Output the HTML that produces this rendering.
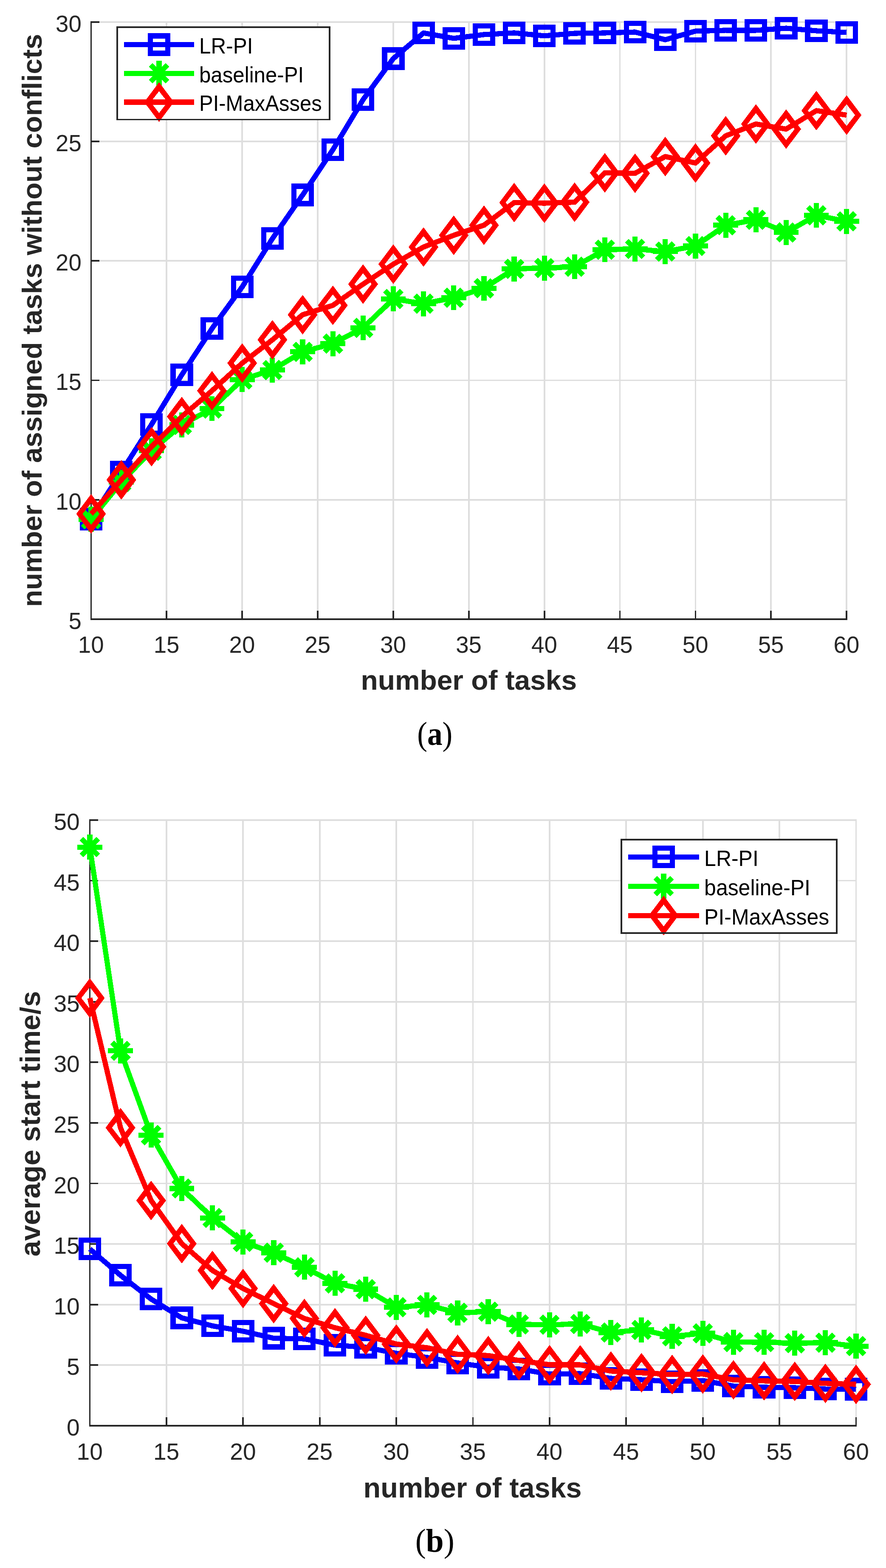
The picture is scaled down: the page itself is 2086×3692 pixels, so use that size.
<!DOCTYPE html>
<html lang="en"><head><meta charset="utf-8"><title>Figure</title>
<style>html,body{margin:0;padding:0;background:#fff}body{width:2086px;height:3692px;overflow:hidden}svg{display:block}text{font-family:"Liberation Sans",Arial,Helvetica,sans-serif}.cap text{font-family:"Liberation Serif","DejaVu Serif",serif}.c{shape-rendering:crispEdges}.s{fill:none;stroke-linejoin:miter;shape-rendering:crispEdges}.d{fill:currentColor;fill-rule:evenodd;stroke:none}</style>
</head><body>
<svg width="2086" height="3692" viewBox="0 0 2086 3692">
<rect width="2086" height="3692" fill="#fff"/>
<g id="chart-a">
<path class="c" fill="#dedede" d="M390 50H394V1438H390ZM568 50H572V1438H568ZM746 50H750V1438H746ZM924 50H928V1438H924ZM1102 50H1106V1438H1102ZM1280 50H1284V1438H1280ZM1458 50H1461V1438H1458ZM1636 50H1639V1438H1636ZM1813 50H1817V1438H1813ZM1991 50H1995V1438H1991ZM234 1175H1995V1179H234ZM234 894H1995V897H234ZM234 612H1995V616H234ZM234 331H1995V335H234ZM234 50H1995V54H234Z"/>
<path class="c" fill="#262626" d="M213 50H216V1460H213ZM213 1456H1995V1460H213ZM390 1438H394V1460H390ZM568 1438H572V1460H568ZM746 1438H750V1460H746ZM924 1438H928V1460H924ZM1102 1438H1106V1460H1102ZM1280 1438H1284V1460H1280ZM1458 1438H1461V1460H1458ZM1636 1438H1639V1460H1636ZM1813 1438H1817V1460H1813ZM1991 1438H1995V1460H1991ZM213 1175H234V1179H213ZM213 894H234V897H213ZM213 612H234V616H213ZM213 331H234V335H213ZM213 50H234V54H213Z"/>
<g font-size="54.6" fill="#262626" text-anchor="middle">
<text transform="translate(214.2 1536.9)">10</text>
<text transform="translate(392.07 1536.9)">15</text>
<text transform="translate(569.94 1536.9)">20</text>
<text transform="translate(747.81 1536.9)">25</text>
<text transform="translate(925.68 1536.9)">30</text>
<text transform="translate(1103.55 1536.9)">35</text>
<text transform="translate(1281.42 1536.9)">40</text>
<text transform="translate(1459.29 1536.9)">45</text>
<text transform="translate(1637.16 1536.9)">50</text>
<text transform="translate(1815.03 1536.9)">55</text>
<text transform="translate(1992.9 1536.9)">60</text>
</g>
<g font-size="54.6" fill="#262626" text-anchor="end">
<text transform="translate(191.8 1480.7)">5</text>
<text transform="translate(191.8 1199.54)">10</text>
<text transform="translate(191.8 918.38)">15</text>
<text transform="translate(191.8 637.22)">20</text>
<text transform="translate(191.8 356.06)">25</text>
<text transform="translate(191.8 74.9)">30</text>
</g>
<g font-size="65" font-weight="bold" fill="#262626" text-anchor="middle">
<text transform="translate(1103.8 1623.8) scale(1.0130 1)">number of tasks</text>
<text transform="translate(97.8 754.4) rotate(-90) scale(1.0100 1)">number of assigned tasks without conflicts</text>
</g>
<g class="s" stroke="#0000ff" color="#0000ff" stroke-width="12.2">
<polyline stroke-linejoin="round" points="214.5,1222.3 285.65,1111.5 356.8,999.5 427.94,882.6 499.09,773.7 570.24,675.5 641.39,561.8 712.54,459 783.68,352.6 854.83,234.6 925.98,137.9 997.13,77.6 1068.28,90.3 1139.42,81.4 1210.57,77.4 1281.72,84.4 1352.87,78.5 1424.02,77.5 1495.16,75.5 1566.31,93.5 1637.46,73.3 1708.61,71.4 1779.76,71.4 1850.9,66.5 1922.05,72.5 1993.2,76.4"/>
<rect x="194" y="1201.8" width="41" height="41"/>
<rect x="265.15" y="1091" width="41" height="41"/>
<rect x="336.3" y="979" width="41" height="41"/>
<rect x="407.44" y="862.1" width="41" height="41"/>
<rect x="478.59" y="753.2" width="41" height="41"/>
<rect x="549.74" y="655" width="41" height="41"/>
<rect x="620.89" y="541.3" width="41" height="41"/>
<rect x="692.04" y="438.5" width="41" height="41"/>
<rect x="763.18" y="332.1" width="41" height="41"/>
<rect x="834.33" y="214.1" width="41" height="41"/>
<rect x="905.48" y="117.4" width="41" height="41"/>
<rect x="976.63" y="57.1" width="41" height="41"/>
<rect x="1047.78" y="69.8" width="41" height="41"/>
<rect x="1118.92" y="60.9" width="41" height="41"/>
<rect x="1190.07" y="56.9" width="41" height="41"/>
<rect x="1261.22" y="63.9" width="41" height="41"/>
<rect x="1332.37" y="58" width="41" height="41"/>
<rect x="1403.52" y="57" width="41" height="41"/>
<rect x="1474.66" y="55" width="41" height="41"/>
<rect x="1545.81" y="73" width="41" height="41"/>
<rect x="1616.96" y="52.8" width="41" height="41"/>
<rect x="1688.11" y="50.9" width="41" height="41"/>
<rect x="1759.26" y="50.9" width="41" height="41"/>
<rect x="1830.4" y="46" width="41" height="41"/>
<rect x="1901.55" y="52" width="41" height="41"/>
<rect x="1972.7" y="55.9" width="41" height="41"/>
</g>
<g class="s" stroke="#00ff00" color="#00ff00" stroke-width="12.2">
<polyline stroke-linejoin="round" points="214.5,1222.7 285.65,1135 356.8,1061.2 427.94,1000.5 499.09,962 570.24,893.6 641.39,871.1 712.54,828.3 783.68,809.2 854.83,772 925.98,703.8 997.13,715.1 1068.28,701 1139.42,678.9 1210.57,633.1 1281.72,631.3 1352.87,628 1424.02,588 1495.16,586.2 1566.31,592.3 1637.46,579.2 1708.61,530.2 1779.76,517.6 1850.9,547.3 1922.05,507 1993.2,521.2"/>
<path d="M185.1 1222.7H243.9M214.5 1193.3V1252.1M194.84 1203.04L234.16 1242.36M194.84 1242.36L234.16 1203.04"/>
<path d="M256.25 1135H315.05M285.65 1105.6V1164.4M265.99 1115.34L305.31 1154.66M265.99 1154.66L305.31 1115.34"/>
<path d="M327.4 1061.2H386.2M356.8 1031.8V1090.6M337.14 1041.54L376.46 1080.86M337.14 1080.86L376.46 1041.54"/>
<path d="M398.54 1000.5H457.34M427.94 971.1V1029.9M408.28 980.84L447.6 1020.16M408.28 1020.16L447.6 980.84"/>
<path d="M469.69 962H528.49M499.09 932.6V991.4M479.43 942.34L518.75 981.66M479.43 981.66L518.75 942.34"/>
<path d="M540.84 893.6H599.64M570.24 864.2V923M550.58 873.94L589.9 913.26M550.58 913.26L589.9 873.94"/>
<path d="M611.99 871.1H670.79M641.39 841.7V900.5M621.73 851.44L661.05 890.76M621.73 890.76L661.05 851.44"/>
<path d="M683.14 828.3H741.94M712.54 798.9V857.7M692.88 808.64L732.2 847.96M692.88 847.96L732.2 808.64"/>
<path d="M754.28 809.2H813.08M783.68 779.8V838.6M764.02 789.54L803.34 828.86M764.02 828.86L803.34 789.54"/>
<path d="M825.43 772H884.23M854.83 742.6V801.4M835.17 752.34L874.49 791.66M835.17 791.66L874.49 752.34"/>
<path d="M896.58 703.8H955.38M925.98 674.4V733.2M906.32 684.14L945.64 723.46M906.32 723.46L945.64 684.14"/>
<path d="M967.73 715.1H1026.53M997.13 685.7V744.5M977.47 695.44L1016.79 734.76M977.47 734.76L1016.79 695.44"/>
<path d="M1038.88 701H1097.68M1068.28 671.6V730.4M1048.62 681.34L1087.94 720.66M1048.62 720.66L1087.94 681.34"/>
<path d="M1110.02 678.9H1168.82M1139.42 649.5V708.3M1119.76 659.24L1159.08 698.56M1119.76 698.56L1159.08 659.24"/>
<path d="M1181.17 633.1H1239.97M1210.57 603.7V662.5M1190.91 613.44L1230.23 652.76M1190.91 652.76L1230.23 613.44"/>
<path d="M1252.32 631.3H1311.12M1281.72 601.9V660.7M1262.06 611.64L1301.38 650.96M1262.06 650.96L1301.38 611.64"/>
<path d="M1323.47 628H1382.27M1352.87 598.6V657.4M1333.21 608.34L1372.53 647.66M1333.21 647.66L1372.53 608.34"/>
<path d="M1394.62 588H1453.42M1424.02 558.6V617.4M1404.36 568.34L1443.68 607.66M1404.36 607.66L1443.68 568.34"/>
<path d="M1465.76 586.2H1524.56M1495.16 556.8V615.6M1475.5 566.54L1514.82 605.86M1475.5 605.86L1514.82 566.54"/>
<path d="M1536.91 592.3H1595.71M1566.31 562.9V621.7M1546.65 572.64L1585.97 611.96M1546.65 611.96L1585.97 572.64"/>
<path d="M1608.06 579.2H1666.86M1637.46 549.8V608.6M1617.8 559.54L1657.12 598.86M1617.8 598.86L1657.12 559.54"/>
<path d="M1679.21 530.2H1738.01M1708.61 500.8V559.6M1688.95 510.54L1728.27 549.86M1688.95 549.86L1728.27 510.54"/>
<path d="M1750.36 517.6H1809.16M1779.76 488.2V547M1760.1 497.94L1799.42 537.26M1760.1 537.26L1799.42 497.94"/>
<path d="M1821.5 547.3H1880.3M1850.9 517.9V576.7M1831.24 527.64L1870.56 566.96M1831.24 566.96L1870.56 527.64"/>
<path d="M1892.65 507H1951.45M1922.05 477.6V536.4M1902.39 487.34L1941.71 526.66M1902.39 526.66L1941.71 487.34"/>
<path d="M1963.8 521.2H2022.6M1993.2 491.8V550.6M1973.54 501.54L2012.86 540.86M1973.54 540.86L2012.86 501.54"/>
</g>
<g class="s" stroke="#ff0000" color="#ff0000" stroke-width="12.2">
<polyline stroke-linejoin="round" points="214.5,1210 285.65,1129.9 356.8,1051.8 427.94,980.9 499.09,920.1 570.24,855 641.39,800.1 712.54,741.1 783.68,719 854.83,669 925.98,622 997.13,581.7 1068.28,554 1139.42,530.3 1210.57,476.9 1281.72,478.5 1352.87,476.1 1424.02,407 1495.16,408 1566.31,368.6 1637.46,383.8 1708.61,319.8 1779.76,292 1850.9,304 1922.05,260.5 1993.2,271"/>
<path class="d" d="M214.5 1163.4L249.6 1210L214.5 1256.6L179.4 1210ZM214.5 1184.4L234.45 1210L214.5 1235.6L194.55 1210Z"/>
<path class="d" d="M285.65 1083.3L320.75 1129.9L285.65 1176.5L250.55 1129.9ZM285.65 1104.3L305.6 1129.9L285.65 1155.5L265.7 1129.9Z"/>
<path class="d" d="M356.8 1005.2L391.9 1051.8L356.8 1098.4L321.7 1051.8ZM356.8 1026.2L376.75 1051.8L356.8 1077.4L336.85 1051.8Z"/>
<path class="d" d="M427.94 934.3L463.04 980.9L427.94 1027.5L392.84 980.9ZM427.94 955.3L447.89 980.9L427.94 1006.5L407.99 980.9Z"/>
<path class="d" d="M499.09 873.5L534.19 920.1L499.09 966.7L463.99 920.1ZM499.09 894.5L519.04 920.1L499.09 945.7L479.14 920.1Z"/>
<path class="d" d="M570.24 808.4L605.34 855L570.24 901.6L535.14 855ZM570.24 829.4L590.19 855L570.24 880.6L550.29 855Z"/>
<path class="d" d="M641.39 753.5L676.49 800.1L641.39 846.7L606.29 800.1ZM641.39 774.5L661.34 800.1L641.39 825.7L621.44 800.1Z"/>
<path class="d" d="M712.54 694.5L747.64 741.1L712.54 787.7L677.44 741.1ZM712.54 715.5L732.49 741.1L712.54 766.7L692.59 741.1Z"/>
<path class="d" d="M783.68 672.4L818.78 719L783.68 765.6L748.58 719ZM783.68 693.4L803.63 719L783.68 744.6L763.73 719Z"/>
<path class="d" d="M854.83 622.4L889.93 669L854.83 715.6L819.73 669ZM854.83 643.4L874.78 669L854.83 694.6L834.88 669Z"/>
<path class="d" d="M925.98 575.4L961.08 622L925.98 668.6L890.88 622ZM925.98 596.4L945.93 622L925.98 647.6L906.03 622Z"/>
<path class="d" d="M997.13 535.1L1032.23 581.7L997.13 628.3L962.03 581.7ZM997.13 556.1L1017.08 581.7L997.13 607.3L977.18 581.7Z"/>
<path class="d" d="M1068.28 507.4L1103.38 554L1068.28 600.6L1033.18 554ZM1068.28 528.4L1088.23 554L1068.28 579.6L1048.33 554Z"/>
<path class="d" d="M1139.42 483.7L1174.52 530.3L1139.42 576.9L1104.32 530.3ZM1139.42 504.7L1159.37 530.3L1139.42 555.9L1119.47 530.3Z"/>
<path class="d" d="M1210.57 430.3L1245.67 476.9L1210.57 523.5L1175.47 476.9ZM1210.57 451.3L1230.52 476.9L1210.57 502.5L1190.62 476.9Z"/>
<path class="d" d="M1281.72 431.9L1316.82 478.5L1281.72 525.1L1246.62 478.5ZM1281.72 452.9L1301.67 478.5L1281.72 504.1L1261.77 478.5Z"/>
<path class="d" d="M1352.87 429.5L1387.97 476.1L1352.87 522.7L1317.77 476.1ZM1352.87 450.5L1372.82 476.1L1352.87 501.7L1332.92 476.1Z"/>
<path class="d" d="M1424.02 360.4L1459.12 407L1424.02 453.6L1388.92 407ZM1424.02 381.4L1443.97 407L1424.02 432.6L1404.07 407Z"/>
<path class="d" d="M1495.16 361.4L1530.26 408L1495.16 454.6L1460.06 408ZM1495.16 382.4L1515.11 408L1495.16 433.6L1475.21 408Z"/>
<path class="d" d="M1566.31 322L1601.41 368.6L1566.31 415.2L1531.21 368.6ZM1566.31 343L1586.26 368.6L1566.31 394.2L1546.36 368.6Z"/>
<path class="d" d="M1637.46 337.2L1672.56 383.8L1637.46 430.4L1602.36 383.8ZM1637.46 358.2L1657.41 383.8L1637.46 409.4L1617.51 383.8Z"/>
<path class="d" d="M1708.61 273.2L1743.71 319.8L1708.61 366.4L1673.51 319.8ZM1708.61 294.2L1728.56 319.8L1708.61 345.4L1688.66 319.8Z"/>
<path class="d" d="M1779.76 245.4L1814.86 292L1779.76 338.6L1744.66 292ZM1779.76 266.4L1799.71 292L1779.76 317.6L1759.81 292Z"/>
<path class="d" d="M1850.9 257.4L1886 304L1850.9 350.6L1815.8 304ZM1850.9 278.4L1870.85 304L1850.9 329.6L1830.95 304Z"/>
<path class="d" d="M1922.05 213.9L1957.15 260.5L1922.05 307.1L1886.95 260.5ZM1922.05 234.9L1942 260.5L1922.05 286.1L1902.1 260.5Z"/>
<path class="d" d="M1993.2 224.4L2028.3 271L1993.2 317.6L1958.1 271ZM1993.2 245.4L2013.15 271L1993.2 296.6L1973.25 271Z"/>
</g>
<rect x="274" y="62" width="504" height="221" fill="#fff"/>
<g class="s" stroke="#0000ff" color="#0000ff" stroke-width="12.2">
<path d="M292 105H457"/>
<rect x="354" y="84.5" width="41" height="41"/>
</g>
<g class="s" stroke="#00ff00" color="#00ff00" stroke-width="12.2">
<path d="M292 172.7H457"/>
<path d="M345.1 172.7H403.9M374.5 143.3V202.1M354.84 153.04L394.16 192.36M354.84 192.36L394.16 153.04"/>
</g>
<g class="s" stroke="#ff0000" color="#ff0000" stroke-width="12.2">
<path d="M292 240.4H457"/>
<path class="d" d="M374.5 193.8L409.6 240.4L374.5 287L339.4 240.4ZM374.5 214.8L394.45 240.4L374.5 266L354.55 240.4Z"/>
</g>
<g font-size="52.2" fill="#000">
<text transform="translate(469 125.9) scale(0.9480 1)">LR-PI</text>
<text transform="translate(469 193.6) scale(0.9430 1)">baseline-PI</text>
<text transform="translate(469 261.3) scale(0.9390 1)">PI-MaxAsses</text>
</g>
<path class="c" fill="#262626" fill-rule="evenodd" d="M274 62H778V283H274ZM278 66H774V280H278Z"/>
</g>
<g id="chart-b">
<path class="c" fill="#dedede" d="M390 1929H394V3337H390ZM570 1929H574V3337H570ZM751 1929H755V3337H751ZM931 1929H935V3337H931ZM1112 1929H1115V3337H1112ZM1292 1929H1296V3337H1292ZM1472 1929H1476V3337H1472ZM1653 1929H1657V3337H1653ZM1833 1929H1837V3337H1833ZM2014 1929H2017V3337H2014ZM231 3212H2017V3216H231ZM231 3070H2017V3074H231ZM231 2927H2017V2931H231ZM231 2785H2017V2788H231ZM231 2642H2017V2646H231ZM231 2499H2017V2503H231ZM231 2357H2017V2361H231ZM231 2214H2017V2218H231ZM231 2072H2017V2075H231ZM231 1929H2017V1933H231Z"/>
<path class="c" fill="#262626" d="M210 1929H213V3359H210ZM210 3355H2017V3359H210ZM390 3337H394V3359H390ZM570 3337H574V3359H570ZM751 3337H755V3359H751ZM931 3337H935V3359H931ZM1112 3337H1115V3359H1112ZM1292 3337H1296V3359H1292ZM1472 3337H1476V3359H1472ZM1653 3337H1657V3359H1653ZM1833 3337H1837V3359H1833ZM2014 3337H2017V3359H2014ZM210 3212H231V3216H210ZM210 3070H231V3074H210ZM210 2927H231V2931H210ZM210 2785H231V2788H210ZM210 2642H231V2646H210ZM210 2499H231V2503H210ZM210 2357H231V2361H210ZM210 2214H231V2218H210ZM210 2072H231V2075H210ZM210 1929H231V1933H210Z"/>
<g font-size="56" fill="#262626" text-anchor="middle">
<text transform="translate(211.2 3437) scale(0.9850 1)">10</text>
<text transform="translate(391.6 3437) scale(0.9850 1)">15</text>
<text transform="translate(572 3437) scale(0.9850 1)">20</text>
<text transform="translate(752.4 3437) scale(0.9850 1)">25</text>
<text transform="translate(932.8 3437) scale(0.9850 1)">30</text>
<text transform="translate(1113.2 3437) scale(0.9850 1)">35</text>
<text transform="translate(1293.6 3437) scale(0.9850 1)">40</text>
<text transform="translate(1474 3437) scale(0.9850 1)">45</text>
<text transform="translate(1654.4 3437) scale(0.9850 1)">50</text>
<text transform="translate(1834.8 3437) scale(0.9850 1)">55</text>
<text transform="translate(2015.2 3437) scale(0.9850 1)">60</text>
</g>
<g font-size="56" fill="#262626" text-anchor="end">
<text transform="translate(187.8 3379.9) scale(0.9850 1)">0</text>
<text transform="translate(187.8 3237.32) scale(0.9850 1)">5</text>
<text transform="translate(187.8 3094.74) scale(0.9850 1)">10</text>
<text transform="translate(187.8 2952.16) scale(0.9850 1)">15</text>
<text transform="translate(187.8 2809.58) scale(0.9850 1)">20</text>
<text transform="translate(187.8 2667) scale(0.9850 1)">25</text>
<text transform="translate(187.8 2524.42) scale(0.9850 1)">30</text>
<text transform="translate(187.8 2381.84) scale(0.9850 1)">35</text>
<text transform="translate(187.8 2239.26) scale(0.9850 1)">40</text>
<text transform="translate(187.8 2096.68) scale(0.9850 1)">45</text>
<text transform="translate(187.8 1954.1) scale(0.9850 1)">50</text>
</g>
<g font-size="65.9" font-weight="bold" fill="#262626" text-anchor="middle">
<text transform="translate(1112.6 3526.4) scale(1.0100 1)">number of tasks</text>
<text transform="translate(93.9 2646) rotate(-90) scale(1.0100 1)">average start time/s</text>
</g>
<g class="s" stroke="#0000ff" color="#0000ff" stroke-width="12.2">
<polyline stroke-linejoin="round" points="211.5,2940.9 283.66,3002.8 355.82,3058.8 427.98,3103 500.14,3121.9 572.3,3134.5 644.46,3151 716.62,3152.5 788.78,3167.3 860.94,3172.5 933.1,3186.5 1005.26,3196.2 1077.42,3209.2 1149.58,3219.3 1221.74,3223.3 1293.9,3235.6 1366.06,3234.5 1438.22,3245.5 1510.38,3248.6 1582.54,3253.3 1654.7,3250.6 1726.86,3263.6 1799.02,3266.5 1871.18,3267.5 1943.34,3270.6 2015.5,3271"/>
<rect x="191" y="2920.4" width="41" height="41"/>
<rect x="263.16" y="2982.3" width="41" height="41"/>
<rect x="335.32" y="3038.3" width="41" height="41"/>
<rect x="407.48" y="3082.5" width="41" height="41"/>
<rect x="479.64" y="3101.4" width="41" height="41"/>
<rect x="551.8" y="3114" width="41" height="41"/>
<rect x="623.96" y="3130.5" width="41" height="41"/>
<rect x="696.12" y="3132" width="41" height="41"/>
<rect x="768.28" y="3146.8" width="41" height="41"/>
<rect x="840.44" y="3152" width="41" height="41"/>
<rect x="912.6" y="3166" width="41" height="41"/>
<rect x="984.76" y="3175.7" width="41" height="41"/>
<rect x="1056.92" y="3188.7" width="41" height="41"/>
<rect x="1129.08" y="3198.8" width="41" height="41"/>
<rect x="1201.24" y="3202.8" width="41" height="41"/>
<rect x="1273.4" y="3215.1" width="41" height="41"/>
<rect x="1345.56" y="3214" width="41" height="41"/>
<rect x="1417.72" y="3225" width="41" height="41"/>
<rect x="1489.88" y="3228.1" width="41" height="41"/>
<rect x="1562.04" y="3232.8" width="41" height="41"/>
<rect x="1634.2" y="3230.1" width="41" height="41"/>
<rect x="1706.36" y="3243.1" width="41" height="41"/>
<rect x="1778.52" y="3246" width="41" height="41"/>
<rect x="1850.68" y="3247" width="41" height="41"/>
<rect x="1922.84" y="3250.1" width="41" height="41"/>
<rect x="1995" y="3250.5" width="41" height="41"/>
</g>
<g class="s" stroke="#00ff00" color="#00ff00" stroke-width="12.2">
<polyline stroke-linejoin="round" points="211.5,1994.7 283.66,2474.2 355.82,2672.7 427.98,2798.4 500.14,2867.6 572.3,2924.3 644.46,2949.6 716.62,2983.8 788.78,3021.7 860.94,3035.5 933.1,3078.3 1005.26,3072.5 1077.42,3091.2 1149.58,3088.4 1221.74,3118.5 1293.9,3119.3 1366.06,3117.4 1438.22,3137.4 1510.38,3131.2 1582.54,3146.5 1654.7,3139.5 1726.86,3160.3 1799.02,3160.4 1871.18,3162.6 1943.34,3161.5 2015.5,3169.6"/>
<path d="M182.1 1994.7H240.9M211.5 1965.3V2024.1M191.84 1975.04L231.16 2014.36M191.84 2014.36L231.16 1975.04"/>
<path d="M254.26 2474.2H313.06M283.66 2444.8V2503.6M264 2454.54L303.32 2493.86M264 2493.86L303.32 2454.54"/>
<path d="M326.42 2672.7H385.22M355.82 2643.3V2702.1M336.16 2653.04L375.48 2692.36M336.16 2692.36L375.48 2653.04"/>
<path d="M398.58 2798.4H457.38M427.98 2769V2827.8M408.32 2778.74L447.64 2818.06M408.32 2818.06L447.64 2778.74"/>
<path d="M470.74 2867.6H529.54M500.14 2838.2V2897M480.48 2847.94L519.8 2887.26M480.48 2887.26L519.8 2847.94"/>
<path d="M542.9 2924.3H601.7M572.3 2894.9V2953.7M552.64 2904.64L591.96 2943.96M552.64 2943.96L591.96 2904.64"/>
<path d="M615.06 2949.6H673.86M644.46 2920.2V2979M624.8 2929.94L664.12 2969.26M624.8 2969.26L664.12 2929.94"/>
<path d="M687.22 2983.8H746.02M716.62 2954.4V3013.2M696.96 2964.14L736.28 3003.46M696.96 3003.46L736.28 2964.14"/>
<path d="M759.38 3021.7H818.18M788.78 2992.3V3051.1M769.12 3002.04L808.44 3041.36M769.12 3041.36L808.44 3002.04"/>
<path d="M831.54 3035.5H890.34M860.94 3006.1V3064.9M841.28 3015.84L880.6 3055.16M841.28 3055.16L880.6 3015.84"/>
<path d="M903.7 3078.3H962.5M933.1 3048.9V3107.7M913.44 3058.64L952.76 3097.96M913.44 3097.96L952.76 3058.64"/>
<path d="M975.86 3072.5H1034.66M1005.26 3043.1V3101.9M985.6 3052.84L1024.92 3092.16M985.6 3092.16L1024.92 3052.84"/>
<path d="M1048.02 3091.2H1106.82M1077.42 3061.8V3120.6M1057.76 3071.54L1097.08 3110.86M1057.76 3110.86L1097.08 3071.54"/>
<path d="M1120.18 3088.4H1178.98M1149.58 3059V3117.8M1129.92 3068.74L1169.24 3108.06M1129.92 3108.06L1169.24 3068.74"/>
<path d="M1192.34 3118.5H1251.14M1221.74 3089.1V3147.9M1202.08 3098.84L1241.4 3138.16M1202.08 3138.16L1241.4 3098.84"/>
<path d="M1264.5 3119.3H1323.3M1293.9 3089.9V3148.7M1274.24 3099.64L1313.56 3138.96M1274.24 3138.96L1313.56 3099.64"/>
<path d="M1336.66 3117.4H1395.46M1366.06 3088V3146.8M1346.4 3097.74L1385.72 3137.06M1346.4 3137.06L1385.72 3097.74"/>
<path d="M1408.82 3137.4H1467.62M1438.22 3108V3166.8M1418.56 3117.74L1457.88 3157.06M1418.56 3157.06L1457.88 3117.74"/>
<path d="M1480.98 3131.2H1539.78M1510.38 3101.8V3160.6M1490.72 3111.54L1530.04 3150.86M1490.72 3150.86L1530.04 3111.54"/>
<path d="M1553.14 3146.5H1611.94M1582.54 3117.1V3175.9M1562.88 3126.84L1602.2 3166.16M1562.88 3166.16L1602.2 3126.84"/>
<path d="M1625.3 3139.5H1684.1M1654.7 3110.1V3168.9M1635.04 3119.84L1674.36 3159.16M1635.04 3159.16L1674.36 3119.84"/>
<path d="M1697.46 3160.3H1756.26M1726.86 3130.9V3189.7M1707.2 3140.64L1746.52 3179.96M1707.2 3179.96L1746.52 3140.64"/>
<path d="M1769.62 3160.4H1828.42M1799.02 3131V3189.8M1779.36 3140.74L1818.68 3180.06M1779.36 3180.06L1818.68 3140.74"/>
<path d="M1841.78 3162.6H1900.58M1871.18 3133.2V3192M1851.52 3142.94L1890.84 3182.26M1851.52 3182.26L1890.84 3142.94"/>
<path d="M1913.94 3161.5H1972.74M1943.34 3132.1V3190.9M1923.68 3141.84L1963 3181.16M1923.68 3181.16L1963 3141.84"/>
<path d="M1986.1 3169.6H2044.9M2015.5 3140.2V3199M1995.84 3149.94L2035.16 3189.26M1995.84 3189.26L2035.16 3149.94"/>
</g>
<g class="s" stroke="#ff0000" color="#ff0000" stroke-width="12.2">
<polyline stroke-linejoin="round" points="211.5,2350 283.66,2655.3 355.82,2826.7 427.98,2928.3 500.14,2991.4 572.3,3034 644.46,3069.5 716.62,3104.4 788.78,3126.3 860.94,3144 933.1,3164.7 1005.26,3173.4 1077.42,3188.9 1149.58,3191.8 1221.74,3203.3 1293.9,3213.4 1366.06,3213.6 1438.22,3228.3 1510.38,3232.3 1582.54,3236.4 1654.7,3235.3 1726.86,3249 1799.02,3251.4 1871.18,3252.6 1943.34,3257.3 2015.5,3259.6"/>
<path class="d" d="M211.5 2303.4L246.6 2350L211.5 2396.6L176.4 2350ZM211.5 2324.4L231.45 2350L211.5 2375.6L191.55 2350Z"/>
<path class="d" d="M283.66 2608.7L318.76 2655.3L283.66 2701.9L248.56 2655.3ZM283.66 2629.7L303.61 2655.3L283.66 2680.9L263.71 2655.3Z"/>
<path class="d" d="M355.82 2780.1L390.92 2826.7L355.82 2873.3L320.72 2826.7ZM355.82 2801.1L375.77 2826.7L355.82 2852.3L335.87 2826.7Z"/>
<path class="d" d="M427.98 2881.7L463.08 2928.3L427.98 2974.9L392.88 2928.3ZM427.98 2902.7L447.93 2928.3L427.98 2953.9L408.03 2928.3Z"/>
<path class="d" d="M500.14 2944.8L535.24 2991.4L500.14 3038L465.04 2991.4ZM500.14 2965.8L520.09 2991.4L500.14 3017L480.19 2991.4Z"/>
<path class="d" d="M572.3 2987.4L607.4 3034L572.3 3080.6L537.2 3034ZM572.3 3008.4L592.25 3034L572.3 3059.6L552.35 3034Z"/>
<path class="d" d="M644.46 3022.9L679.56 3069.5L644.46 3116.1L609.36 3069.5ZM644.46 3043.9L664.41 3069.5L644.46 3095.1L624.51 3069.5Z"/>
<path class="d" d="M716.62 3057.8L751.72 3104.4L716.62 3151L681.52 3104.4ZM716.62 3078.8L736.57 3104.4L716.62 3130L696.67 3104.4Z"/>
<path class="d" d="M788.78 3079.7L823.88 3126.3L788.78 3172.9L753.68 3126.3ZM788.78 3100.7L808.73 3126.3L788.78 3151.9L768.83 3126.3Z"/>
<path class="d" d="M860.94 3097.4L896.04 3144L860.94 3190.6L825.84 3144ZM860.94 3118.4L880.89 3144L860.94 3169.6L840.99 3144Z"/>
<path class="d" d="M933.1 3118.1L968.2 3164.7L933.1 3211.3L898 3164.7ZM933.1 3139.1L953.05 3164.7L933.1 3190.3L913.15 3164.7Z"/>
<path class="d" d="M1005.26 3126.8L1040.36 3173.4L1005.26 3220L970.16 3173.4ZM1005.26 3147.8L1025.21 3173.4L1005.26 3199L985.31 3173.4Z"/>
<path class="d" d="M1077.42 3142.3L1112.52 3188.9L1077.42 3235.5L1042.32 3188.9ZM1077.42 3163.3L1097.37 3188.9L1077.42 3214.5L1057.47 3188.9Z"/>
<path class="d" d="M1149.58 3145.2L1184.68 3191.8L1149.58 3238.4L1114.48 3191.8ZM1149.58 3166.2L1169.53 3191.8L1149.58 3217.4L1129.63 3191.8Z"/>
<path class="d" d="M1221.74 3156.7L1256.84 3203.3L1221.74 3249.9L1186.64 3203.3ZM1221.74 3177.7L1241.69 3203.3L1221.74 3228.9L1201.79 3203.3Z"/>
<path class="d" d="M1293.9 3166.8L1329 3213.4L1293.9 3260L1258.8 3213.4ZM1293.9 3187.8L1313.85 3213.4L1293.9 3239L1273.95 3213.4Z"/>
<path class="d" d="M1366.06 3167L1401.16 3213.6L1366.06 3260.2L1330.96 3213.6ZM1366.06 3188L1386.01 3213.6L1366.06 3239.2L1346.11 3213.6Z"/>
<path class="d" d="M1438.22 3181.7L1473.32 3228.3L1438.22 3274.9L1403.12 3228.3ZM1438.22 3202.7L1458.17 3228.3L1438.22 3253.9L1418.27 3228.3Z"/>
<path class="d" d="M1510.38 3185.7L1545.48 3232.3L1510.38 3278.9L1475.28 3232.3ZM1510.38 3206.7L1530.33 3232.3L1510.38 3257.9L1490.43 3232.3Z"/>
<path class="d" d="M1582.54 3189.8L1617.64 3236.4L1582.54 3283L1547.44 3236.4ZM1582.54 3210.8L1602.49 3236.4L1582.54 3262L1562.59 3236.4Z"/>
<path class="d" d="M1654.7 3188.7L1689.8 3235.3L1654.7 3281.9L1619.6 3235.3ZM1654.7 3209.7L1674.65 3235.3L1654.7 3260.9L1634.75 3235.3Z"/>
<path class="d" d="M1726.86 3202.4L1761.96 3249L1726.86 3295.6L1691.76 3249ZM1726.86 3223.4L1746.81 3249L1726.86 3274.6L1706.91 3249Z"/>
<path class="d" d="M1799.02 3204.8L1834.12 3251.4L1799.02 3298L1763.92 3251.4ZM1799.02 3225.8L1818.97 3251.4L1799.02 3277L1779.07 3251.4Z"/>
<path class="d" d="M1871.18 3206L1906.28 3252.6L1871.18 3299.2L1836.08 3252.6ZM1871.18 3227L1891.13 3252.6L1871.18 3278.2L1851.23 3252.6Z"/>
<path class="d" d="M1943.34 3210.7L1978.44 3257.3L1943.34 3303.9L1908.24 3257.3ZM1943.34 3231.7L1963.29 3257.3L1943.34 3282.9L1923.39 3257.3Z"/>
<path class="d" d="M2015.5 3213L2050.6 3259.6L2015.5 3306.2L1980.4 3259.6ZM2015.5 3234L2035.45 3259.6L2015.5 3285.2L1995.55 3259.6Z"/>
</g>
<rect x="1461" y="1975" width="511" height="224" fill="#fff"/>
<g class="s" stroke="#0000ff" color="#0000ff" stroke-width="12.2">
<path d="M1479.2 2017.8H1645.8"/>
<rect x="1542" y="1997.3" width="41" height="41"/>
</g>
<g class="s" stroke="#00ff00" color="#00ff00" stroke-width="12.2">
<path d="M1479.2 2086.7H1645.8"/>
<path d="M1533.1 2086.7H1591.9M1562.5 2057.3V2116.1M1542.84 2067.04L1582.16 2106.36M1542.84 2106.36L1582.16 2067.04"/>
</g>
<g class="s" stroke="#ff0000" color="#ff0000" stroke-width="12.2">
<path d="M1479.2 2155.6H1645.8"/>
<path class="d" d="M1562.5 2109L1597.6 2155.6L1562.5 2202.2L1527.4 2155.6ZM1562.5 2130L1582.45 2155.6L1562.5 2181.2L1542.55 2155.6Z"/>
</g>
<g font-size="52.2" fill="#000">
<text transform="translate(1658.1 2039.1) scale(0.9570 1)">LR-PI</text>
<text transform="translate(1658.1 2108) scale(0.9570 1)">baseline-PI</text>
<text transform="translate(1658.1 2176.9) scale(0.9570 1)">PI-MaxAsses</text>
</g>
<path class="c" fill="#262626" fill-rule="evenodd" d="M1461 1975H1972V2199H1461ZM1465 1979H1968V2195H1465Z"/>
</g>
<g class="cap" font-size="77.5" fill="#000" text-anchor="middle">
<text transform="translate(1023.7 1754) scale(0.9200 1)">(<tspan font-weight="bold">a</tspan>)</text>
<text transform="translate(1023.7 3653.9) scale(0.9720 1)">(<tspan font-weight="bold">b</tspan>)</text>
</g>
</svg></body></html>
